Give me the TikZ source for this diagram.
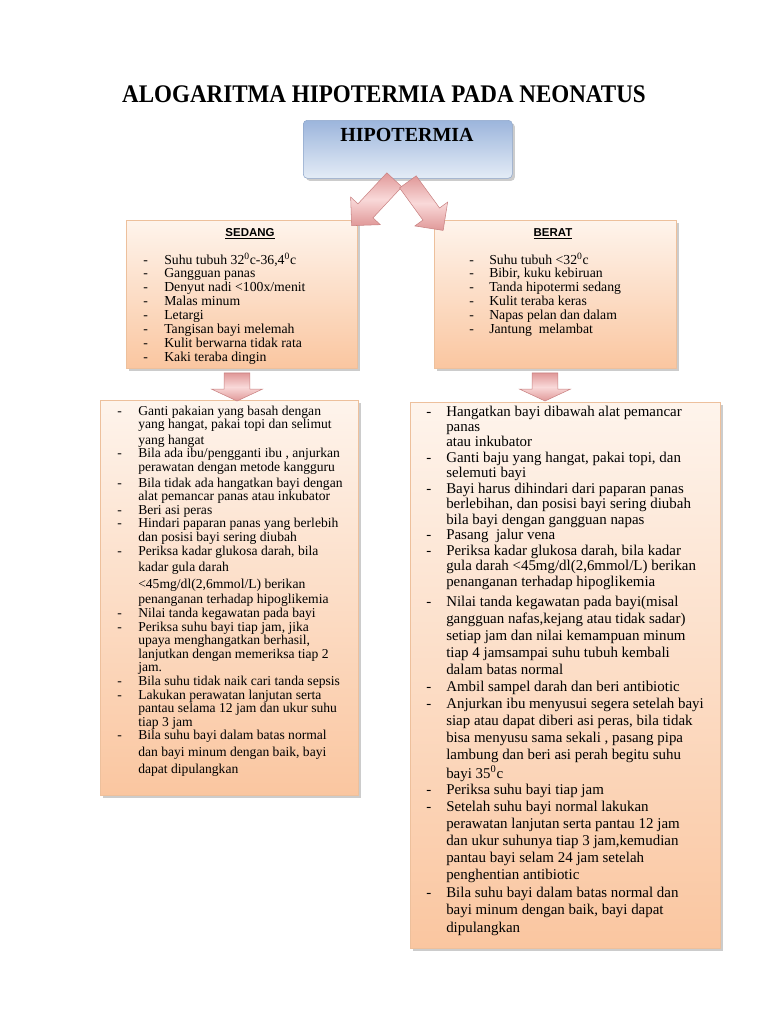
\documentclass[tikz,border=0pt]{standalone}
\usepackage{fontspec}
\setmainfont{Liberation Serif}
\setsansfont{Liberation Sans}
\usetikzlibrary{positioning,calc,shapes.arrows,shadows}
\definecolor{peachtop}{HTML}{FEF4EC}
\definecolor{peachbot}{HTML}{FAC6A0}
\definecolor{peachline}{HTML}{EDC09C}
\definecolor{bluetop}{HTML}{9CB5DC}
\definecolor{bluebot}{HTML}{E4ECF6}
\definecolor{blueline}{HTML}{8FA7CB}
\definecolor{pinklight}{HTML}{F9D9D9}
\definecolor{pinkdark}{HTML}{E09898}
\definecolor{pinkline}{HTML}{C98383}

\begin{document}
\begin{tikzpicture}[x=0.75pt,y=-0.75pt,
  box/.style={rectangle, draw=peachline, top color=peachtop, bottom color=peachbot,
    drop shadow={shadow xshift=2pt, shadow yshift=-2pt, fill=black!40}, anchor=north west, inner sep=0pt},
  headbox/.style={rectangle, rounded corners=3pt, draw=blueline, top color=bluetop, bottom color=bluebot,
    drop shadow={shadow xshift=2pt, shadow yshift=-2pt, fill=black!40}, anchor=north west, inner sep=0pt},
  fatarrow/.style={single arrow, draw=pinkline, top color=pinkdark, bottom color=pinkdark, middle color=pinklight,
    inner xsep=0pt, single arrow head indent=0pt},
  list/.style={anchor=base west, inner sep=0pt},
  title/.style={font=\fontsize{8.6pt}{9pt}\sffamily\bfseries, inner sep=0pt}
]
% frame of the page
\useasboundingbox (0,0) rectangle (768,1024);
\node[font=\fontsize{19pt}{19pt}\selectfont\bfseries, xscale=0.91, transform shape, anchor=base] (judul) at (384,103) {ALOGARITMA HIPOTERMIA PADA NEONATUS};

% boxes
\node[headbox, minimum width=156.75pt, minimum height=43.5pt] (hipo) at (303,120) {};
\node[font=\fontsize{15pt}{15pt}\selectfont\bfseries, anchor=base] (hipotxt) at (407,142) {HIPOTERMIA};
\node[box, minimum width=173.25pt, minimum height=111pt] (sedang) at (126,220) {};
\node[box, minimum width=181.5pt, minimum height=111pt] (berat) at (434,220) {};
\node[box, minimum width=193.5pt, minimum height=296.25pt] (tsedang) at (100,400) {};
\node[box, minimum width=232.5pt, minimum height=409.5pt] (tberat) at (410,402) {};

% arrows
\node[fatarrow, rotate=-133, minimum height=47pt, inner ysep=7.5pt, single arrow head extend=7.5pt] (arrl) at (376.5,199) {};
\node[fatarrow, rotate=-54, minimum height=45pt, inner ysep=7.5pt, single arrow head extend=7.5pt] (arrr) at (422.5,202) {};
\node[fatarrow, rotate=-90, minimum height=21pt, inner ysep=9.4pt, single arrow head extend=9.4pt, single arrow tip angle=130] (arrsd) at (237,384) {};
\node[fatarrow, rotate=-90, minimum height=21pt, inner ysep=9.4pt, single arrow head extend=9.4pt, single arrow tip angle=130] (arrbt) at (545,384) {};

% texts
\node[title, anchor=base] (sedanghd) at (250,236) {\underline{SEDANG}};
\node[title, anchor=base] (berathd) at (553,236) {\underline{BERAT}};

\node[list, font=\fontsize{10.3pt}{10.4pt}\selectfont] (sedangtxt) at (143,264) {%
\begin{tabular}[t]{@{}p{15.75pt}@{}l@{}}
- & Suhu tubuh 32\textsuperscript{0}c-36,4\textsuperscript{0}c\\
- & Gangguan panas\\
- & Denyut nadi <100x/menit\\
- & Malas minum\\
- & Letargi\\
- & Tangisan bayi melemah\\
- & Kulit berwarna tidak rata\\
- & Kaki teraba dingin
\end{tabular}};

\node[list, font=\fontsize{10.3pt}{10.4pt}\selectfont] (berattxt) at (469,264) {%
\begin{tabular}[t]{@{}p{15pt}@{}l@{}}
- & Suhu tubuh <32\textsuperscript{0}c\\
- & Bibir, kuku kebiruan\\
- & Tanda hipotermi sedang\\
- & Kulit teraba keras\\
- & Napas pelan dan dalam\\
- & Jantung\ \ melambat
\end{tabular}};

\node[list, font=\fontsize{10.2pt}{10.2pt}\selectfont] (tsedangtxt) at (117,415) {%
\begin{tabular}[t]{@{}p{15.75pt}@{}l@{}}
- & Ganti pakaian yang basah dengan\\
  & yang hangat, pakai topi dan selimut\\[1.5pt]
  & yang hangat\\
- & Bila ada ibu/pengganti ibu , anjurkan\\
  & perawatan dengan metode kangguru\\[1.5pt]
- & Bila tidak ada hangatkan bayi dengan\\
  & alat pemancar panas atau inkubator\\
- & Beri asi peras\\
- & Hindari paparan panas yang berlebih\\
  & dan posisi bayi sering diubah\\
- & Periksa kadar glukosa darah, bila\\[2.5pt]
  & kadar gula darah\\[2.5pt]
  & <45mg/dl(2,6mmol/L) berikan\\[1pt]
  & penanganan terhadap hipoglikemia\\
- & Nilai tanda kegawatan pada bayi\\
- & Periksa suhu bayi tiap jam, jika\\
  & upaya menghangatkan berhasil,\\
  & lanjutkan dengan memeriksa tiap 2\\
  & jam.\\
- & Bila suhu tidak naik cari tanda sepsis\\
- & Lakukan perawatan lanjutan serta\\
  & pantau selama 12 jam dan ukur suhu\\
  & tiap 3 jam\\
- & Bila suhu bayi dalam batas normal\\[2.5pt]
  & dan bayi minum dengan baik, bayi\\[2pt]
  & dapat dipulangkan
\end{tabular}};

\node[list, font=\fontsize{11.2pt}{11.6pt}\selectfont] (tberattxt) at (426,416) {%
\begin{tabular}[t]{@{}p{15pt}@{}l@{}}
- & Hangatkan bayi dibawah alat pemancar\\
  & panas\\
  & atau inkubator\\
- & Ganti baju yang hangat, pakai topi, dan\\
  & selemuti bayi\\
- & Bayi harus dihindari dari paparan panas\\
  & berlebihan, dan posisi bayi sering diubah\\
  & bila bayi dengan gangguan napas\\
- & Pasang\ \ jalur vena\\
- & Periksa kadar glukosa darah, bila kadar\\
  & gula darah <45mg/dl(2,6mmol/L) berikan\\
  & penanganan terhadap hipoglikemia\\[3.4pt]
- & Nilai tanda kegawatan pada bayi(misal\\[1.2pt]
  & gangguan nafas,kejang atau tidak sadar)\\[1.2pt]
  & setiap jam dan nilai kemampuan minum\\[1.2pt]
  & tiap 4 jamsampai suhu tubuh kembali\\[1.2pt]
  & dalam batas normal\\[1.2pt]
- & Ambil sampel darah dan beri antibiotic\\[1.2pt]
- & Anjurkan ibu menyusui segera setelah bayi\\[1.2pt]
  & siap atau dapat diberi asi peras, bila tidak\\[1.2pt]
  & bisa menyusu sama sekali , pasang pipa\\[1.2pt]
  & lambung dan beri asi perah begitu suhu\\[1.2pt]
  & bayi 35\textsuperscript{0}c\\[0.5pt]
- & Periksa suhu bayi tiap jam\\[1.2pt]
- & Setelah suhu bayi normal lakukan\\[1.2pt]
  & perawatan lanjutan serta pantau 12 jam\\[1.2pt]
  & dan ukur suhunya tiap 3 jam,kemudian\\[1.2pt]
  & pantau bayi selam 24 jam setelah\\[1.2pt]
  & penghentian antibiotic\\[1.6pt]
- & Bila suhu bayi dalam batas normal dan\\[1.6pt]
  & bayi minum dengan baik, bayi dapat\\[1.6pt]
  & dipulangkan
\end{tabular}};
\end{tikzpicture}
\end{document}
